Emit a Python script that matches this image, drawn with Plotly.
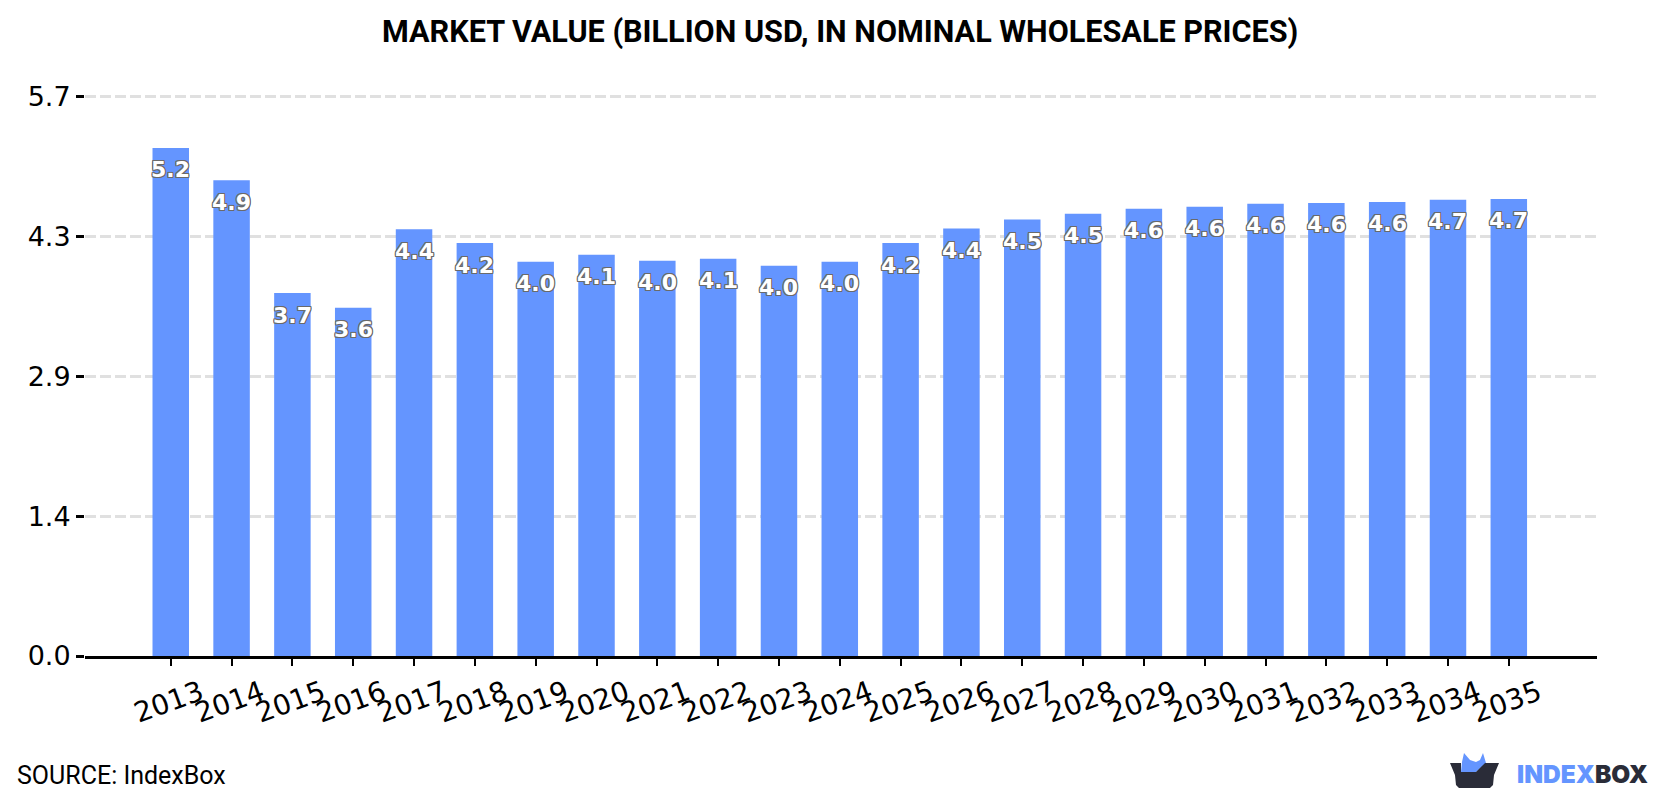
import plotly.graph_objects as go

years = list(range(2013, 2036))
market_value = [5.18, 4.851, 3.70, 3.551, 4.351, 4.21, 4.02, 4.09, 4.03, 4.051, 3.98, 4.02,
                4.21, 4.36, 4.45, 4.51, 4.56, 4.58, 4.61, 4.62, 4.63, 4.651, 4.66]
y_ticks = [0, 1.425, 2.85, 4.275, 5.7]
y_labels = ["0.0", "1.4", "2.9", "4.3", "5.7"]

BLUE = "#6495ff"
DARK = "#2a2c38"
L, R, T, B = 85, 83, 94.5, 144
W, H = 1680, 800
OUTLINE = "#6a6a6a"


def px(x):
    return (x - L) / (W - L - R)


def py(y):
    return 1 - (y - T) / (H - T - B)


def path(points):
    return "M " + " L ".join(f"{px(x):.5f},{py(y):.5f}" for x, y in points) + " Z"


fig = go.Figure(go.Bar(x=years, y=market_value, width=0.6, marker_color=BLUE, marker_line_width=0))

# value labels sit just inside the top of each bar
halo = ", ".join(f"{dx}px {dy}px 0 {OUTLINE}" for dx in (-1, 0, 1) for dy in (-1, 0, 1) if dx or dy)
for year, value in zip(years, market_value):
    fig.add_annotation(
        x=year, y=value, yshift=-22, text=f"{value:.1f}", showarrow=False,
        font=dict(family="DejaVu Sans", size=22, color="white", weight="bold", shadow=halo),
    )

fig.add_annotation(xref="paper", yref="paper", x=px(840), y=py(31), yanchor="middle",
                   text="<b>MARKET VALUE (BILLION USD, IN NOMINAL WHOLESALE PRICES)</b>",
                   showarrow=False, font=dict(family="Roboto", size=30.6, color="black"))
fig.add_annotation(xref="paper", yref="paper", x=px(15), y=py(776), xanchor="left", yanchor="middle",
                   text="SOURCE: IndexBox", showarrow=False, font=dict(family="Roboto", size=25, color="black"))
fig.add_annotation(xref="paper", yref="paper", x=px(1515), y=py(774), xanchor="left", yanchor="middle",
                   text=f'<span style="color:{BLUE}">INDEX</span><span style="color:{DARK}">BOX</span>',
                   showarrow=False, font=dict(family="Inter", size=24.5, weight=900))

# brand mark: a dark box with a blue lid
fig.add_shape(type="path", xref="paper", yref="paper", line_width=0, fillcolor=BLUE,
              path=path([(1461, 772), (1462, 762), (1464, 753), (1470, 760), (1476, 762), (1480, 760),
                         (1483, 753), (1486, 763), (1476, 772)]))
fig.add_shape(type="path", xref="paper", yref="paper", line_width=0, fillcolor=DARK,
              path=path([(1450, 763), (1461, 763), (1461, 772), (1476, 772), (1485, 763), (1499, 763),
                         (1494, 775), (1493, 785), (1490, 788), (1459, 788), (1456, 785), (1455, 775)]))

fig.update_layout(
    width=W, height=H, autosize=False, margin=dict(l=L, r=R, t=T, b=B),
    paper_bgcolor="white", plot_bgcolor="white", showlegend=False,
    xaxis=dict(range=[2013 - 1.41, 2035 + 1.45], tickvals=years, tickangle=-20, ticks="outside", ticklen=7,
               tickwidth=2, tickcolor="black", showline=True, linecolor="black", linewidth=3, showgrid=False,
               ticklabelshift=30,
               tickfont=dict(family="DejaVu Sans", size=28, color="black"), zeroline=False),
    yaxis=dict(range=[0, 5.72], tickvals=y_ticks, ticktext=y_labels, ticks="outside", ticklen=8, tickwidth=3,
               tickcolor="black", showline=False, showgrid=True, gridcolor="#e0e0e0", gridwidth=3,
               griddash="11px,4px", zeroline=False,
               tickfont=dict(family="DejaVu Sans", size=27, color="black")),
)
fig.write_html("out.html", config={"displayModeBar": False})
